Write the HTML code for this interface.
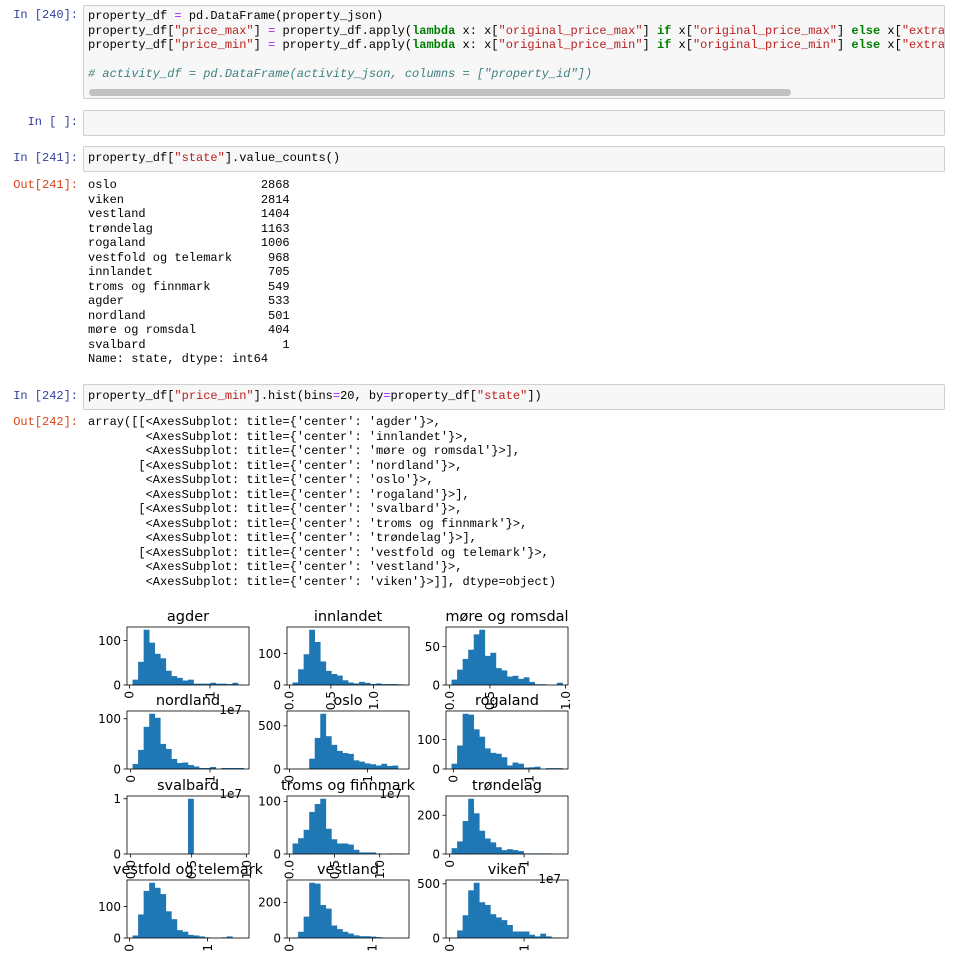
<!DOCTYPE html>
<html><head><meta charset="utf-8">
<style>
body{margin:0;width:960px;height:953px;background:#fff;position:relative;overflow:hidden;font-family:"Liberation Mono",monospace;font-size:12px}
.p{position:absolute;width:78px;text-align:right;left:0;line-height:14.5px;white-space:pre}
.in{color:#303F9F}.out{color:#D84315}
.cell{position:absolute;left:83px;width:860px;background:#f7f7f7;border:1px solid #cfcfcf;border-radius:2px;overflow:hidden}
.code{position:absolute;left:4px;line-height:14.5px;white-space:pre;color:#000}
.o{position:absolute;left:88px;line-height:14.5px;white-space:pre;color:#000}
.k{color:#008000;font-weight:bold}.s{color:#BA2121}.c{color:#408080;font-style:italic}.op{color:#AA22FF}
svg text{font-family:"DejaVu Sans",sans-serif}
</style></head><body>
<div class="p in" style="top:8px">In [240]:</div>
<div class="cell" style="top:5px;height:92px">
<div class="code" style="top:3px">property_df <span class="op">=</span> pd.DataFrame(property_json)
property_df[<span class="s">"price_max"</span>] <span class="op">=</span> property_df.apply(<span class="k">lambda</span> x: x[<span class="s">"original_price_max"</span>] <span class="k">if</span> x[<span class="s">"original_price_max"</span>] <span class="k">else</span> x[<span class="s">"extra_price_max"</span>])
property_df[<span class="s">"price_min"</span>] <span class="op">=</span> property_df.apply(<span class="k">lambda</span> x: x[<span class="s">"original_price_min"</span>] <span class="k">if</span> x[<span class="s">"original_price_min"</span>] <span class="k">else</span> x[<span class="s">"extra_price_min"</span>])

<span class="c"># activity_df = pd.DataFrame(activity_json, columns = ["property_id"])</span></div>
<div style="position:absolute;left:5px;top:83px;width:702px;height:7px;background:#c1c1c1;border-radius:4px"></div>
</div>
<div class="p in" style="top:115px">In [ ]:</div>
<div class="cell" style="top:110px;height:24px"></div>
<div class="p in" style="top:151px">In [241]:</div>
<div class="cell" style="top:146px;height:24px"><div class="code" style="top:4px">property_df[<span class="s">"state"</span>].value_counts()</div></div>
<div class="p out" style="top:178px">Out[241]:</div>
<div class="o" style="top:178px">oslo                    2868
viken                   2814
vestland                1404
trøndelag               1163
rogaland                1006
vestfold og telemark     968
innlandet                705
troms og finnmark        549
agder                    533
nordland                 501
møre og romsdal          404
svalbard                   1
Name: state, dtype: int64</div>
<div class="p in" style="top:389px">In [242]:</div>
<div class="cell" style="top:384px;height:24px"><div class="code" style="top:4px">property_df[<span class="s">"price_min"</span>].hist(bins<span class="op">=</span>20, by<span class="op">=</span>property_df[<span class="s">"state"</span>])</div></div>
<div class="p out" style="top:415px">Out[242]:</div>
<div class="o" style="top:415px">array([[&lt;AxesSubplot: title={'center': 'agder'}&gt;,
        &lt;AxesSubplot: title={'center': 'innlandet'}&gt;,
        &lt;AxesSubplot: title={'center': 'møre og romsdal'}&gt;],
       [&lt;AxesSubplot: title={'center': 'nordland'}&gt;,
        &lt;AxesSubplot: title={'center': 'oslo'}&gt;,
        &lt;AxesSubplot: title={'center': 'rogaland'}&gt;],
       [&lt;AxesSubplot: title={'center': 'svalbard'}&gt;,
        &lt;AxesSubplot: title={'center': 'troms og finnmark'}&gt;,
        &lt;AxesSubplot: title={'center': 'trøndelag'}&gt;],
       [&lt;AxesSubplot: title={'center': 'vestfold og telemark'}&gt;,
        &lt;AxesSubplot: title={'center': 'vestland'}&gt;,
        &lt;AxesSubplot: title={'center': 'viken'}&gt;]], dtype=object)</div>
<svg id="hist" width="960" height="953" style="position:absolute;left:0;top:0"></svg>
<script>
const names=["agder","innlandet","møre og romsdal","nordland","oslo","rogaland","svalbard","troms og finnmark","trøndelag","vestfold og telemark","vestland","viken"];
const agder=[12,52,124,95,70,60,32,20,16,10,12,3,3,3,5,3,3,2,5,1];
const innlandet=[8,50,98,176,137,75,45,35,30,15,8,5,10,7,3,5,3,3,3,2];
const more=[7,20,34,46,66,72,38,42,22,19,11,12,8,10,4,1,1,0,0,3];
const nordland=[10,38,84,110,102,50,40,20,12,13,8,5,2,2,4,0,2,2,2,2];
const oslo=[3,3,3,120,360,640,380,280,210,185,175,100,85,65,55,40,60,35,40,3];
const rogaland=[18,80,188,185,135,110,70,55,52,40,12,22,18,5,6,8,0,3,3,3];
const svalbard=[0,0,0,0,0,0,0,0,0,0,1,0,0,0,0,0,0,0,0,0];
const troms=[20,30,46,80,95,105,48,28,20,20,18,8,3,3,3,1,0,1,1,1];
const trondelag=[30,65,170,285,210,120,80,60,35,20,25,20,15,3,3,3,3,3,0,0];
const vestfold=[8,75,150,176,160,140,85,60,25,20,10,8,5,2,0,0,2,5,0,0];
const vestland=[3,35,120,310,305,185,165,70,50,35,25,15,10,10,8,5,2,0,0,0];
const viken=[3,70,210,440,510,330,305,220,190,165,120,60,60,60,30,15,40,15,3,3];
const series=[agder,innlandet,more,nordland,oslo,rogaland,svalbard,troms,trondelag,vestfold,vestland,viken];
const yTicks=[[0,100],[0,100],[0,50],[0,100],[0,500],[0,100],[0,1],[0,100],[0,200],[0,100],[0,200],[0,500]];
const xTickLabels=[["0","1"],["0.0","0.5","1.0"],["0.0","0.5","1.0"],["0","1"],["0","1"],["0","1"],["0.0","0.5","1.0"],["0.0","0.5","1.0"],["0","1"],["0","1"],["0","1"],["0","1"]];
const xTickFrac=[[0.02,0.68],[0.02,0.36,0.71],[0.03,0.36,0.98],[0.03,0.68],[0.02,0.66],[0.06,0.68],[0.03,0.53,0.98],[0.02,0.39,0.76],[0.03,0.64],[0.02,0.66],[0.02,0.7],[0.03,0.64]];
const offsetShown=[true,false,false,true,true,false,false,false,true,false,false,true];
const svg=document.getElementById('hist');const NS='http://www.w3.org/2000/svg';
const colL=[127,287,446],rowT=[627,711,796,880],W=122,H=58;
function mk(t,a,p){const e=document.createElementNS(NS,t);for(const k in a)e.setAttribute(k,a[k]);(p||svg).appendChild(e);return e;}
names.forEach((nm,i)=>{
 const x0=colL[i%3],y0=rowT[Math.floor(i/3)],vals=series[i];
 const g=mk('g',{});
 
 
 const ymax=Math.max(...vals)*1.05;
 const ys=v=>y0+H-v/ymax*H;
 const bw=W/1.1/vals.length,bx=x0+W*0.05/1.1;
 vals.forEach((v,j)=>{ if(v<=0)return;
  const r=mk('rect',{x:bx+j*bw,y:ys(v),width:bw+0.3,height:y0+H-ys(v),fill:'#1f77b4'},g);
  
  
 });
 mk('rect',{x:x0,y:y0,width:W,height:H,fill:'none',stroke:'#000','stroke-width':0.8},g);
 yTicks[i].forEach(t=>{const y=ys(t);
  mk('line',{x1:x0-3.5,x2:x0,y1:y,y2:y,stroke:'#000','stroke-width':0.8},g);
  const tx=mk('text',{x:x0-6,y:y+4.3,'font-size':12,'text-anchor':'end'},g);tx.textContent=t;
  
  
 });
 xTickLabels[i].forEach((lab,k)=>{const x=x0+W*xTickFrac[i][k];
  mk('line',{x1:x,x2:x,y1:y0+H,y2:y0+H+3.5,stroke:'#000','stroke-width':0.8},g);
  const tx=mk('text',{transform:`translate(${x+4.3},${y0+H+6}) rotate(-90)`,'font-size':12,'text-anchor':'end'},g);tx.textContent=lab;
  
  
 });
 if(offsetShown[i]){const t=mk('text',{x:x0+W-7,y:y0+H+29,'font-size':12,'text-anchor':'end'},g);t.textContent='1e7';
  
  }
 const tt=mk('text',{x:x0+W/2,y:y0-6,'font-size':14.5,'text-anchor':'middle'},g);tt.textContent=nm;
 
 
});
</script>
</body></html>
